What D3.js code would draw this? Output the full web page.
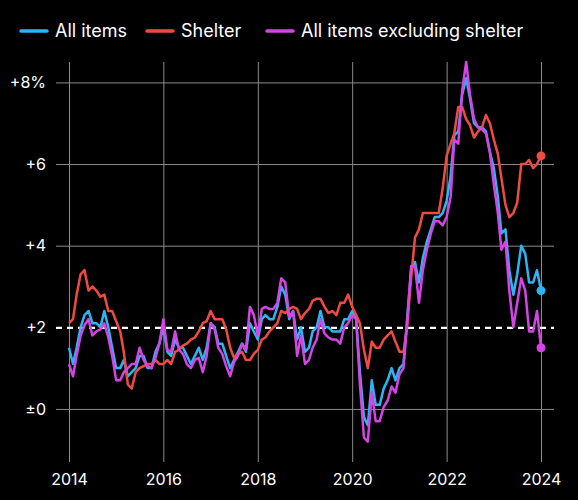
<!DOCTYPE html>
<html lang="en">
  <head>
    <meta charset="UTF-8" />
    <title>Inflation: all items vs shelter</title>
    <style>
      body { margin: 0; background: #000; }
      svg { display: block; }
      text { font-family: Inter, "Noto Sans", sans-serif; fill: #fff; }
    </style>
  </head>
  <body>
    <div id="chart"></div>

    <script src="https://cdn.jsdelivr.net/npm/d3@7/dist/d3.min.js"></script>
    <script>
    // year-over-year % change, monthly Jan 2014 .. Jan 2024
    var allItems = [
      1.5, 1.1, 1.5, 2.0, 2.3, 2.4, 2.1, 2.1, 2.0, 2.4, 2.0, 1.5,
      1.0, 1.0, 1.2, 0.8, 0.9, 1.0, 1.3, 1.3, 1.0, 1.0, 1.4, 1.6,
      2.0, 1.4, 1.3, 1.7, 1.5, 1.5, 1.3, 1.1, 1.3, 1.5, 1.2, 1.5,
      2.1, 2.0, 1.6, 1.6, 1.3, 1.0, 1.2, 1.4, 1.6, 1.4, 2.1, 1.9,
      1.7, 2.2, 2.3, 2.2, 2.2, 2.5, 3.0, 2.8, 2.2, 2.4, 1.7, 2.0,
      1.4, 1.5, 1.9, 2.0, 2.4, 2.0, 2.0, 1.9, 1.9, 1.9, 2.2, 2.2,
      2.4, 2.2, 0.9, -0.2, -0.4, 0.7, 0.1, 0.1, 0.5, 0.7, 1.0, 0.7,
      1.0, 1.1, 2.2, 3.4, 3.6, 3.1, 3.7, 4.1, 4.4, 4.7, 4.7, 4.8,
      5.1, 5.7, 6.7, 6.8, 7.7, 8.1, 7.6, 7.0, 6.9, 6.9, 6.8, 6.3,
      5.9, 5.2, 4.3, 4.4, 3.4, 2.8, 3.3, 4.0, 3.8, 3.1, 3.1, 3.4,
      2.9
    ];

    var shelter = [
      2.1, 2.2, 2.8, 3.3, 3.4, 2.9, 3.0, 2.9, 2.75, 2.8, 2.4, 2.4,
      2.15, 1.9, 1.4, 0.6, 0.5, 0.9, 1.0, 1.05, 1.1, 1.1, 1.2, 1.1,
      1.1, 1.2, 1.1, 1.4, 1.45, 1.55, 1.6, 1.7, 1.75, 1.9, 2.1, 2.15,
      2.4, 2.2, 2.2, 2.2, 1.95, 1.5, 1.25, 1.35, 1.4, 1.2, 1.2, 1.35,
      1.45, 1.7, 1.75, 1.9, 2.0, 2.1, 2.4, 2.35, 2.45, 2.5, 2.45, 2.2,
      2.35, 2.45, 2.65, 2.7, 2.7, 2.5, 2.35, 2.4, 2.3, 2.6, 2.6, 2.8,
      2.5, 2.3, 2.1, 1.45, 1.0, 1.65, 1.5, 1.5, 1.7, 1.8, 1.9, 1.65,
      1.4, 1.4, 2.0, 3.2, 4.2, 4.4, 4.8, 4.8, 4.8, 4.8, 4.8, 5.4,
      6.2, 6.5, 6.75, 7.4, 7.4, 7.1, 6.95, 6.65, 6.8, 6.9, 7.2, 7.0,
      6.6, 6.25, 5.65, 5.0, 4.7, 4.8, 5.05, 6.0, 6.0, 6.1, 5.9, 6.0,
      6.2
    ];

    var exShelter = [
      1.1, 0.8, 1.3, 1.8, 2.05, 2.2, 1.8, 1.9, 1.95, 2.1, 1.75, 1.3,
      0.7, 0.7, 0.9, 1.0, 1.1, 1.1, 1.5, 1.2, 1.05, 1.0, 1.25, 1.6,
      2.2, 1.45, 1.4, 1.9, 1.45, 1.35, 1.1, 1.0, 1.2, 1.25, 0.9, 1.3,
      2.1, 1.95, 1.5, 1.35, 1.05, 0.8, 1.15, 1.3, 1.6, 1.45, 2.5, 2.3,
      1.8, 2.45, 2.5, 2.45, 2.45, 2.6, 3.2, 3.1, 2.25, 2.4, 1.3, 1.8,
      1.1, 1.2, 1.5, 1.7, 2.2, 1.85, 1.75, 1.7, 1.7, 1.6, 2.0, 2.1,
      2.3, 2.2, 0.6, -0.7, -0.8, 0.4, -0.3, -0.3, 0.05, 0.2, 0.55, 0.4,
      0.85, 1.0, 2.1, 3.5, 3.5, 2.6, 3.4, 3.9, 4.3, 4.6, 4.6, 4.5,
      4.7, 5.2, 6.6, 6.5, 7.8, 8.5, 7.7, 7.1, 6.9, 6.85, 6.75, 6.3,
      5.5, 4.8, 3.9, 4.1, 2.9, 2.0, 2.6, 3.2, 2.9, 1.9, 1.9, 2.4,
      1.5
    ];

    var seriesNames = ["All items", "Shelter", "All items excluding shelter"];
    var seriesColors = ["#2cb5f2", "#ef4b45", "#d444e6"];
    var yearTicks = [2014, 2016, 2018, 2020, 2022, 2024];
    var pctTicks = [0, 2, 4, 6, 8];

    var w = 578, h = 500;

    var months = d3.timeMonth.range(new Date(2014, 0, 1), new Date(2024, 1, 1));

    var svg = d3.select("#chart").append("svg")
      .attr("width", w)
      .attr("height", h);

    var x = d3.scaleTime()
      .domain([new Date(2014, 0, 1), new Date(2024, 0, 1)])
      .range([69, 541]);

    var y = d3.scaleLinear()
      .domain([-1.3, 8.5])
      .range([462, 62]);

    // vertical grid + year labels
    var xAxis = d3.axisBottom(x)
      .tickValues(yearTicks.map(function(yr) { return new Date(yr, 0, 1); }))
      .tickFormat(d3.timeFormat("%Y"))
      .tickSize(-400)
      .tickPadding(12);

    var gx = svg.append("g")
      .attr("transform", "translate(0,462)")
      .call(xAxis);
    gx.select(".domain").remove();
    gx.selectAll("line").attr("stroke", "#8c8c8c").attr("stroke-width", 1);
    gx.selectAll("text").attr("font-size", 16).attr("fill", "#fff");

    // horizontal grid + % labels
    var yAxis = d3.axisLeft(y)
      .tickValues(pctTicks)
      .tickFormat(function(d) {
        if (d === 0) return "\u00b10";
        return "+" + d + (d === 8 ? "%" : "");
      })
      .tickSize(-(554 - 56))
      .tickPadding(10);

    var gy = svg.append("g")
      .attr("transform", "translate(56,0)")
      .call(yAxis);
    gy.select(".domain").remove();
    gy.selectAll("line").attr("stroke", "#8c8c8c").attr("stroke-width", 1);
    gy.selectAll("text").attr("font-size", 16).attr("fill", "#fff");
    // the 2% target line is dashed
    gy.selectAll(".tick").filter(function(d) { return d === 2; }).select("line")
      .attr("stroke", "#fff")
      .attr("stroke-width", 2.2)
      .attr("stroke-dasharray", "6,5");

    var line = d3.line()
      .x(function(d, i) { return x(months[i]); })
      .y(function(d) { return y(d); });

    var allSeries = [allItems, shelter, exShelter];

    allSeries.forEach(function(vals, k) {
      svg.append("path")
        .datum(vals)
        .attr("fill", "none")
        .attr("stroke", seriesColors[k])
        .attr("stroke-width", 2.5)
        .attr("stroke-linejoin", "round")
        .attr("d", line);

      svg.append("circle")
        .attr("cx", x(months[vals.length - 1]))
        .attr("cy", y(vals[vals.length - 1]))
        .attr("r", 4.5)
        .attr("fill", seriesColors[k]);
    });

    // legend
    var legX = [21, 147, 267];
    var legend = svg.append("g").attr("transform", "translate(0,31)");
    seriesNames.forEach(function(name, k) {
      legend.append("line")
        .attr("x1", legX[k]).attr("x2", legX[k] + 26)
        .attr("y1", 0).attr("y2", 0)
        .attr("stroke", seriesColors[k])
        .attr("stroke-width", 3.5)
        .attr("stroke-linecap", "round");
      legend.append("text")
        .attr("x", legX[k] + 34)
        .attr("y", 0)
        .attr("dy", "0.35em")
        .attr("font-size", 18)
        .text(name);
    });
    </script>
  </body>
</html>
